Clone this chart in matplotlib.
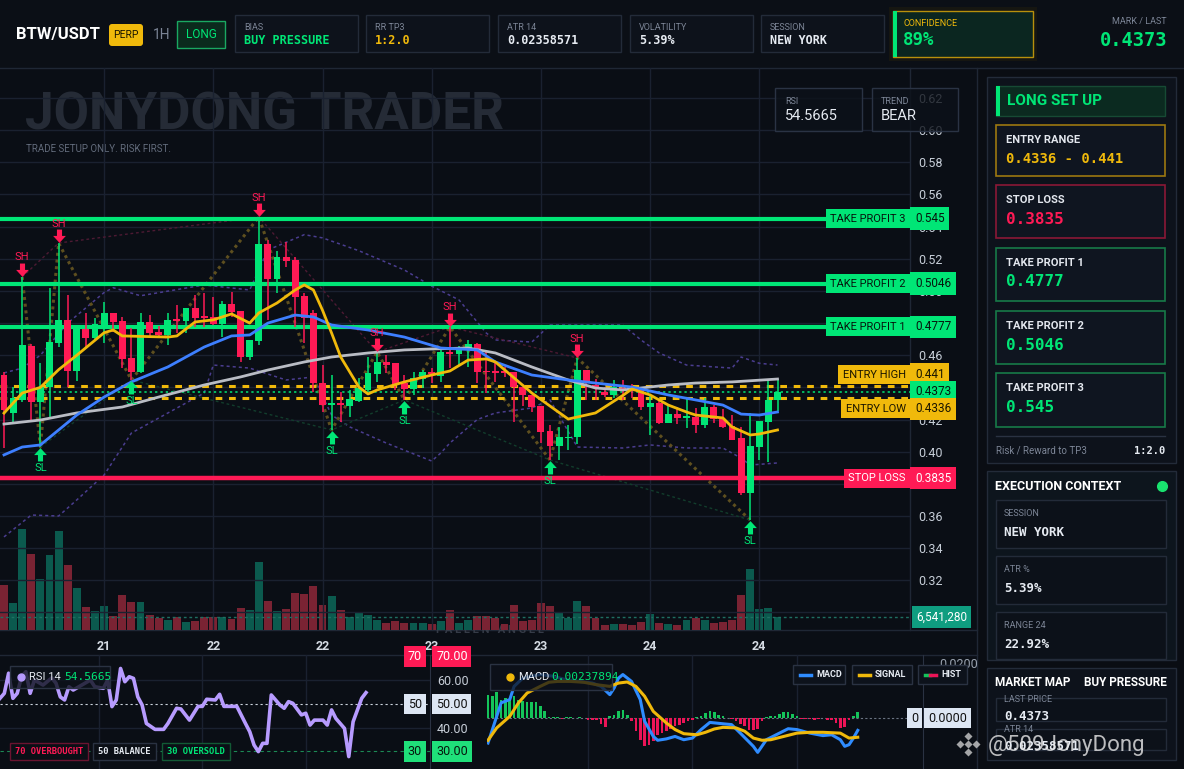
import numpy as np
import matplotlib
matplotlib.use("Agg")
import matplotlib.pyplot as plt
from matplotlib.patches import Rectangle, FancyBboxPatch
from matplotlib.path import Path
from matplotlib.transforms import offset_copy
from matplotlib.colors import to_rgba

# ---------------- data ----------------
opens = [0.4477, 0.4241, 0.4322, 0.4658, 0.4309, 0.4402, 0.4676, 0.4819, 0.4502, 0.4763,
         0.4707, 0.4788, 0.4863, 0.4813, 0.4583, 0.4496, 0.4807, 0.4745, 0.4726, 0.4822,
         0.4813, 0.4894, 0.4838, 0.4838, 0.4794, 0.4919, 0.4875, 0.4589, 0.4689, 0.5292,
         0.5074, 0.5211, 0.5192, 0.4969, 0.4863, 0.4427, 0.4291, 0.4297, 0.4284, 0.4316,
         0.4384, 0.4483, 0.4558, 0.4552, 0.4427, 0.4390, 0.4452, 0.4496, 0.4471, 0.4620,
         0.4608, 0.4633, 0.4670, 0.4502, 0.4502, 0.4496, 0.4496, 0.4402, 0.4353, 0.4284,
         0.4129, 0.4035, 0.4085, 0.4091, 0.4508, 0.4415, 0.4371, 0.4353, 0.4396, 0.4402,
         0.4384, 0.4278, 0.4303, 0.4178, 0.4234, 0.4210, 0.4216, 0.4166, 0.4278, 0.4203,
         0.4160, 0.4085, 0.3743, 0.4029, 0.4185, 0.4322]
highs = [0.4496, 0.4400, 0.5087, 0.4670, 0.4552, 0.5018, 0.5298, 0.4975, 0.4782, 0.4863,
         0.4832, 0.4931, 0.4863, 0.4838, 0.4769, 0.4863, 0.4850, 0.4780, 0.4863, 0.4913,
         0.4894, 0.4975, 0.4988, 0.4963, 0.4938, 0.4993, 0.4875, 0.4695, 0.5460, 0.5317,
         0.5248, 0.5304, 0.5211, 0.4988, 0.4880, 0.4539, 0.4477, 0.4371, 0.4384, 0.4458,
         0.4589, 0.4620, 0.4602, 0.4552, 0.4477, 0.4496, 0.4508, 0.4520, 0.4633, 0.4776,
         0.4658, 0.4695, 0.4676, 0.4633, 0.4558, 0.4527, 0.4496, 0.4402, 0.4353, 0.4284,
         0.4166, 0.4154, 0.4166, 0.4583, 0.4508, 0.4452, 0.4402, 0.4446, 0.4446, 0.4420,
         0.4384, 0.4353, 0.4322, 0.4284, 0.4280, 0.4334, 0.4272, 0.4334, 0.4290, 0.4266,
         0.4228, 0.4154, 0.4241, 0.4191, 0.4446, 0.4452]
lows = [0.4023, 0.4180, 0.4310, 0.4185, 0.4029, 0.4216, 0.4651, 0.4402, 0.4440, 0.4651,
        0.4695, 0.4676, 0.4745, 0.4520, 0.4446, 0.4490, 0.4707, 0.4707, 0.4664, 0.4738,
        0.4738, 0.4776, 0.4776, 0.4788, 0.4713, 0.4838, 0.4558, 0.4570, 0.4664, 0.4819,
        0.4987, 0.5149, 0.4776, 0.4676, 0.4370, 0.4247, 0.4135, 0.4185, 0.4216, 0.4309,
        0.4371, 0.4434, 0.4490, 0.4384, 0.4322, 0.4353, 0.4396, 0.4427, 0.4434, 0.4520,
        0.4540, 0.4527, 0.4427, 0.4365, 0.4434, 0.4465, 0.4185, 0.4284, 0.4247, 0.4054,
        0.3948, 0.3948, 0.4010, 0.4048, 0.4322, 0.4322, 0.4340, 0.4334, 0.4322, 0.4334,
        0.4259, 0.4104, 0.4172, 0.4178, 0.4172, 0.4147, 0.4116, 0.4147, 0.4178, 0.4147,
        0.4073, 0.3731, 0.3575, 0.3948, 0.3936, 0.4253]
closes = [0.4259, 0.4334, 0.4664, 0.4310, 0.4402, 0.4682, 0.4819, 0.4502, 0.4782, 0.4707,
          0.4794, 0.4863, 0.4807, 0.4577, 0.4496, 0.4807, 0.4738, 0.4726, 0.4819, 0.4816,
          0.4894, 0.4832, 0.4832, 0.4794, 0.4919, 0.4869, 0.4589, 0.4695, 0.5292, 0.5074,
          0.5211, 0.5186, 0.4962, 0.4832, 0.4427, 0.4291, 0.4294, 0.4291, 0.4328, 0.4396,
          0.4490, 0.4558, 0.4539, 0.4415, 0.4390, 0.4458, 0.4496, 0.4483, 0.4620, 0.4608,
          0.4639, 0.4670, 0.4496, 0.4496, 0.4490, 0.4490, 0.4402, 0.4353, 0.4278, 0.4123,
          0.4035, 0.4091, 0.4091, 0.4508, 0.4434, 0.4402, 0.4353, 0.4402, 0.4378, 0.4378,
          0.4278, 0.4303, 0.4178, 0.4234, 0.4210, 0.4222, 0.4166, 0.4278, 0.4203, 0.4153,
          0.4073, 0.3743, 0.4035, 0.4191, 0.4322, 0.4373]
# volume in millions
volumes_m = [22.6, 13.6, 50.8, 38.2, 25.7, 37.7, 49.8, 32.7, 21.1, 11.6,
             9.6, 12.1, 7.0, 17.6, 14.1, 14.1, 7.5, 6.0, 5.0, 6.5,
             4.0, 4.5, 6.5, 6.5, 6.5, 5.5, 11.1, 10.1, 34.2, 14.6,
             9.6, 10.6, 18.6, 18.1, 22.1, 12.6, 17.1, 10.1, 6.5, 8.6,
             7.5, 5.0, 3.5, 4.5, 3.5, 3.5, 3.5, 3.0, 4.5, 10.1,
             3.5, 5.0, 7.0, 7.0, 6.0, 3.0, 12.6, 4.5, 5.0, 13.6,
             12.1, 9.1, 6.0, 14.6, 12.1, 6.0, 2.5, 3.0, 3.0, 2.5,
             4.0, 8.0, 3.5, 3.0, 2.5, 5.0, 6.0, 5.0, 3.5, 4.0,
             5.0, 17.6, 30.7, 10.6, 11.1, 6.54]

date_ticks = [11, 23, 35, 47, 59, 71, 83]
date_labels = ["21", "22", "22", "23", "23", "24", "24"]
price_ticks = [0.30, 0.32, 0.34, 0.36, 0.38, 0.40, 0.42, 0.44, 0.46, 0.48,
               0.50, 0.52, 0.54, 0.56, 0.58, 0.60, 0.62]
hidden_ticks = [0.30, 0.38, 0.44, 0.48]   # fully covered by the level tags

# moving averages / bands (candle index, price)
fast_idx = [0, 2, 4, 6, 8, 11, 12, 13, 18, 19, 21, 23, 25, 27, 28, 30, 32, 33, 34, 35,
            36, 37, 39, 40, 41, 44, 47, 49, 51, 53, 54, 58, 62, 65, 68, 69, 71, 73, 75,
            76, 79, 80, 82, 83, 85]
fast_val = [0.424, 0.4365, 0.440, 0.451, 0.460, 0.474, 0.4757, 0.472, 0.4713, 0.472,
            0.4807, 0.482, 0.4857, 0.480, 0.4863, 0.4925, 0.5006, 0.5037, 0.5006, 0.488,
            0.4738, 0.4589, 0.4402, 0.4359, 0.4384, 0.4434, 0.4477, 0.4502, 0.457, 0.4577,
            0.4558, 0.4365, 0.4203, 0.4241, 0.435, 0.439, 0.4353, 0.429, 0.4247,
            0.4228, 0.421, 0.4154, 0.4104, 0.411, 0.4135]
mid_idx = [0, 2, 4, 6, 8, 11, 14, 18, 22, 25, 27, 29, 32, 34, 36, 40, 44, 48, 52, 54,
           58, 62, 65, 69, 73, 76, 79, 81, 83, 85]
mid_val = [0.398, 0.4029, 0.4042, 0.4135, 0.4228, 0.434, 0.4434, 0.4527, 0.4651, 0.472,
           0.4726, 0.480, 0.485, 0.4838, 0.4788, 0.4757, 0.4713, 0.4645, 0.4633, 0.4558,
           0.4477, 0.4446, 0.4427, 0.4402, 0.4353, 0.4322, 0.429, 0.4234, 0.4228, 0.4247]
slow_idx = [0, 4, 8, 13, 17, 22, 26, 29, 33, 36, 40, 44, 47, 51, 54, 58, 62, 65, 68,
            73, 76, 80, 85]
slow_val = [0.4172, 0.4197, 0.4241, 0.4278, 0.434, 0.4415, 0.4465, 0.4508, 0.4558, 0.4589,
            0.4614, 0.4633, 0.4639, 0.4645, 0.4614, 0.4527, 0.4446, 0.4396, 0.4384,
            0.4415, 0.4427, 0.4434, 0.4452]
bb_up_idx = [0, 2, 4, 7, 11, 12, 15, 22, 27, 29, 33, 35, 39, 44, 47, 50, 53, 54, 58, 60,
             68, 70, 72, 75, 80, 81, 83, 85]
bb_up_val = [0.449, 0.452, 0.460, 0.480, 0.499, 0.502, 0.497, 0.5037, 0.5006, 0.5255,
             0.535, 0.533, 0.525, 0.513, 0.503, 0.4944, 0.4738, 0.4695, 0.4682, 0.4788,
             0.4788, 0.4695, 0.4614, 0.4539, 0.452, 0.4589, 0.455, 0.4539]
bb_lo_idx = [0, 3, 6, 8, 11, 14, 22, 23, 27, 31, 34, 36, 38, 42, 47, 48, 49, 52, 54, 58,
             60, 63, 68, 71, 75, 79, 81, 82, 85]
bb_lo_val = [0.347, 0.3606, 0.360, 0.370, 0.3855, 0.4116, 0.4365, 0.4539, 0.452, 0.4446,
             0.4465, 0.4228, 0.4154, 0.4054, 0.3942, 0.3992, 0.4054, 0.420, 0.4241, 0.4272,
             0.4322, 0.4029, 0.4023, 0.4042, 0.4023, 0.4023, 0.396, 0.3917, 0.393]

sh_idx = [2, 6, 28, 41, 49, 63]
sl_idx = [4, 14, 36, 44, 60, 82]

tp3, tp2, tp1 = 0.545, 0.5046, 0.4777
entry_high, entry_low = 0.441, 0.4336
last_price = 0.4373
stop_loss = 0.3835
last_volume = 6541280

rsi_idx = [0, 1, 2, 3, 4, 5, 6, 7, 8, 10, 12, 13, 14, 15, 16, 17, 19, 21, 22, 24,
           25, 26, 27, 28, 29, 30, 31, 32, 33, 34, 36, 38, 39, 41, 42, 44, 46, 47, 48, 50,
           51, 52, 55, 57, 58, 59, 60, 61, 62, 63, 65, 66, 67, 68, 70, 71, 72, 73, 75, 76,
           77, 78, 80, 81, 82, 84, 85]
rsi_val = [52.4, 54.5, 63.0, 52.4, 54.5, 61.5, 63.6, 54.5, 60.1, 58.0, 61.0, 58.8, 53.0,
           51.7, 57.3, 55.9, 58.0, 60.1, 57.3, 56.6, 60.1, 48.9, 51.7, 65.0, 59.4, 61.5,
           60.8, 53.0, 49.6, 41.8, 39.3, 39.3, 41.8, 48.2, 47.9, 43.2, 49.0, 49.0, 52.0,
           51.7, 54.1, 49.0, 49.0, 41.8, 38.3, 32.7, 29.9, 33.4, 33.4, 53.8, 49.6, 48.2,
           51.0, 50.3, 45.4, 46.1, 41.1, 43.2, 43.2, 41.1, 47.5, 43.9, 39.7, 27.8, 42.5,
           52.4, 54.8]
rsi_last = 54.5665

macd_idx = [0, 2, 3, 5, 6, 8, 10, 12, 15, 18, 21, 24, 26, 28, 29, 30, 31, 33, 35, 36,
            38, 39, 41, 43, 45, 47, 49, 51, 54, 56, 58, 61, 62, 64, 67, 69, 71, 74, 77,
            79, 81, 82, 83, 84, 85]
macd_val = [-0.0091, 0.0006, 0.0055, 0.0067, 0.0115, 0.0145, 0.0152, 0.0158, 0.0152,
            0.0139, 0.0133, 0.0127, 0.0115, 0.0085, 0.0109, 0.0145, 0.0158, 0.0133, 0.0067,
            -0.0012, -0.0067, -0.0081, -0.0076, -0.0067, -0.0079, -0.0073, -0.0042, -0.0016,
            -0.0021, -0.0024, -0.0055, -0.0103, -0.0125, -0.0079, -0.0055, -0.0039, -0.0042,
            -0.0055, -0.0064, -0.0061, -0.0079, -0.0103, -0.0097, -0.0073, -0.0045]
signal_idx = [0, 2, 5, 7, 9, 12, 14, 16, 19, 22, 25, 28, 30, 32, 34, 36, 38, 41, 43, 45,
              48, 50, 52, 54, 57, 59, 61, 63, 65, 68, 71, 74, 77, 81, 83, 85]
signal_val = [-0.0081, -0.0036, 0.0006, 0.0055, 0.0091, 0.0115, 0.013, 0.0133, 0.0133,
              0.013, 0.0121, 0.0115, 0.0127, 0.0131, 0.0115, 0.0079, 0.0024, -0.0018,
              -0.0042, -0.0057, -0.0061, -0.0052, -0.004, -0.0034, -0.0036, -0.0048,
              -0.0073, -0.0081, -0.0079, -0.0067, -0.0055, -0.0052, -0.0052, -0.0055,
              -0.0073, -0.007]
hist_val = [0.0085, 0.0079, 0.0093, 0.0067, 0.0073, 0.0067, 0.0081, 0.0067, 0.0061, 0.0057,
            0.0057, 0.0057, 0.0042, 0.0024, 0.0003, 0.0004, 0.0002, -0.0002, 0.0002, 0.0002,
            0.0001, 0.0003, 0.0001, -0.0006, -0.0008, -0.0006, -0.0021, -0.0033, 0.0006, 0.0012,
            0.0024, 0.0028, 0.0012, -0.0012, -0.0048, -0.0079, -0.0103, -0.0097, -0.0085, -0.0061,
            -0.0055, -0.0048, -0.004, -0.0028, -0.0024, -0.0018, -0.0012, -0.0006, 0.0002, 0.0008,
            0.0018, 0.0027, 0.0021, 0.001, 0.0008, 0.0001, -0.0004, -0.0012, -0.0021, -0.003,
            -0.0042, -0.0045, -0.004, -0.0012, 0.0002, 0.0006, 0.0008, 0.0016, 0.0023, 0.0023,
            0.0016, 0.0006, -0.0002, -0.0002, -0.0004, -0.0006, -0.0004, -0.0001, -0.0006, -0.0008,
            -0.0018, -0.0036, -0.0033, -0.0008, 0.0008, 0.0023]
macd_last = 0.00237894

# ---------------- style ----------------
plt.rcParams["font.family"] = ["Roboto", "DejaVu Sans"]
MONO = "DejaVu Sans Mono"
BG = "#0a0e15"
EDGE = "#232b39"
GRID = "#1a2130"
GREEN = "#00e676"
RED = "#ff1a55"
YEL = "#f0b90b"
BLUE = "#3d7fff"
GRAY = "#b9bcc4"
PURPLE = "#4a3d8f"
OLIVE = "#5e4f1f"
VOL_UP = "#0b5a4e"
VOL_DN = "#7a2333"
TXT = "#e6ebf2"
MUTED = "#7c8596"
RSI_C = "#b79bff"

W, H = 1184, 769
fig = plt.figure(figsize=(W / 100, H / 100), dpi=100)
fig.patch.set_facecolor(BG)


def rect(x0, y0, x1, y1):
    return [x0 / W, 1 - y1 / H, (x1 - x0) / W, (y1 - y0) / H]


def rbox(a, x0, y0, x1, y1, fc, ec="none", lw=1.0, alpha=1.0, z=1):
    a.add_patch(Rectangle((x0, y0), x1 - x0, y1 - y0, facecolor=to_rgba(fc, alpha),
                          edgecolor=ec, linewidth=lw, zorder=z))


def put(a, x, y, s, size, color, weight="normal", ha="left", family=None, alpha=1.0, z=5):
    kw = {}
    if family:
        kw["family"] = family
    a.text(x, y, s, fontsize=size, color=color, fontweight=weight, ha=ha, va="center",
           alpha=alpha, zorder=z, **kw)


bg = fig.add_axes([0, 0, 1, 1], zorder=0)
bg.set_xlim(0, W)
bg.set_ylim(H, 0)
bg.axis("off")
fg = fig.add_axes([0, 0, 1, 1], zorder=30)
fg.set_xlim(0, W)
fg.set_ylim(H, 0)
fg.axis("off")
fg.patch.set_alpha(0)

# ---------------- background layout ----------------
rbox(bg, 0, 0, W, 68, "#0b0f16")
rbox(bg, 977, 68, W, H, "#0a0d13")
for (x0, y0, x1, y1) in [(0, 68, W, 68), (0, 630, 977, 630), (0, 655, 977, 655)]:
    bg.plot([x0, x1], [y0, y1], color="#1f2735", lw=1)
bg.plot([910, 910], [68, 630], color="#1f2735", lw=1)
bg.plot([977, 977], [68, H], color="#1f2735", lw=1)

# watermark
bg.text(25, 116, "JONYDONG TRADER", fontsize=37, fontweight="bold", color="#252b36",
        va="center", ha="left")
put(bg, 26, 149, "TRADE SETUP ONLY. RISK FIRST.", 7, "#626b7b")
bg.text(490, 630, " ".join("FALLEN ANGEL"), fontsize=8, fontweight="bold", color="#353b47",
        va="center", ha="center")

# ---------------- top bar ----------------
put(bg, 16, 34, "BTW/USDT", 12, "white", "bold")
bg.add_patch(FancyBboxPatch((109, 24), 34, 22, boxstyle="round,pad=0,rounding_size=3",
                            fc=YEL, ec="none", zorder=2))
put(bg, 126, 35, "PERP", 7.5, "#1b1600", ha="center", z=3)
put(bg, 153, 35, "1H", 10, MUTED)
rbox(bg, 177, 21, 225, 48, "#0b2a1d", ec="#1aa862", lw=1, z=2)
put(bg, 201, 35, "LONG", 8.5, GREEN, ha="center", z=3)

stats = [(235, "BIAS", "BUY PRESSURE", GREEN), (366, "RR TP3", "1:2.0", YEL),
         (498, "ATR 14", "0.02358571", TXT), (630, "VOLATILITY", "5.39%", TXT),
         (761, "SESSION", "NEW YORK", TXT)]
for x0, lab, val, col in stats:
    rbox(bg, x0, 15, x0 + 123, 52, "#0d121b", ec=EDGE, lw=1, z=2)
    put(bg, x0 + 9, 27, lab, 6.5, MUTED, z=3)
    put(bg, x0 + 9, 41, val, 8.5, col, "bold", family=MONO, z=3)

rbox(bg, 889, 7, 1037, 61, "#3a2c05", alpha=0.25, z=1)
rbox(bg, 893, 11, 1033, 57, "#0b2620", ec="#b8900c", lw=1, z=2)
rbox(bg, 893, 11, 897, 57, GREEN, z=3)
put(bg, 903, 23, "CONFIDENCE", 6.5, YEL, z=3)
put(bg, 903, 40, "89%", 12.5, GREEN, "bold", family=MONO, z=3)
put(bg, 1167, 22, "MARK / LAST", 6.5, MUTED, ha="right")
put(bg, 1167, 41, f"{last_price:g}", 13.5, GREEN, "bold", ha="right", family=MONO)

# ---------------- main price chart ----------------
n = len(closes)
idx = np.arange(n)
o = np.array(opens)
c = np.array(closes)
up = c >= o
ccol = np.where(up, GREEN, RED)

vx = fig.add_axes(rect(0, 68, 910, 630), zorder=1)
vx.set_facecolor("none")
vx.set_xlim(-4 / 9.1, 906 / 9.1)
vx.set_ylim(0, 562 / 1.988)
vx.bar(idx, volumes_m, width=0.86, color=np.where(up, VOL_UP, VOL_DN), linewidth=0)
vx.axhline(last_volume / 1e6, color="#1f6f62", lw=1, ls=(0, (2, 2)))
vx.axis("off")
vx.annotate(f"{last_volume:,}", xy=(1 + 6 / 910, last_volume / 1e6),
            xycoords=("axes fraction", "data"), ha="left", va="center", fontsize=8.5,
            color="white", annotation_clip=False, zorder=10,
            bbox=dict(boxstyle="square,pad=0.35", fc="#0f9d80", ec="none"))

ax = fig.add_axes(rect(0, 68, 910, 630), zorder=2)
ax.set_facecolor("none")
ax.set_xlim(-4 / 9.1, 906 / 9.1)
ax.set_ylim(0.62 - 532 / 1607.7, 0.62 + 30 / 1607.7)
ax.set_yticks(price_ticks)
ax.set_yticklabels(["" if any(abs(t - h) < 1e-9 for h in hidden_ticks) else f"{t:.2f}"
                    for t in price_ticks])
ax.set_xticks(date_ticks)
ax.set_xticklabels(date_labels)
ax.yaxis.tick_right()
ax.tick_params(axis="y", length=0, pad=6, labelsize=9, labelcolor="#c7ced8")
ax.tick_params(axis="x", length=0, pad=7, labelsize=9, labelcolor="#d5dbe3")
for lab in ax.get_xticklabels():
    lab.set_fontweight("bold")
ax.grid(color=GRID, lw=1)
ax.set_axisbelow(True)
for s in ax.spines.values():
    s.set_visible(False)

# bands, zigzag, trend lines
ax.plot(bb_up_idx, bb_up_val, color=PURPLE, lw=1.1, ls=(0, (2, 2)), zorder=2)
ax.plot(bb_lo_idx, bb_lo_val, color=PURPLE, lw=1.1, ls=(0, (2, 2)), zorder=2)
swings = sorted([(i, highs[i]) for i in sh_idx] + [(i, lows[i]) for i in sl_idx])
ax.plot([p[0] for p in swings], [p[1] for p in swings], color=OLIVE, lw=2.2,
        ls=(0, (1, 1.2)), zorder=2)
ax.plot(sh_idx, [highs[i] for i in sh_idx], color="#4d1a33", lw=1, ls=(0, (2, 2)), zorder=2)
ax.plot(sl_idx, [lows[i] for i in sl_idx], color="#123d2c", lw=1, ls=(0, (2, 2)), zorder=2)

# levels
for lv in (tp3, tp2, tp1):
    ax.axhline(lv, color=GREEN, lw=3, zorder=3)
ax.axhline(stop_loss, color=RED, lw=3.2, zorder=3)
for lv in (entry_high, entry_low):
    ax.axhline(lv, color=YEL, lw=2.2, ls=(0, (2.2, 2.2)), zorder=4)
ax.axhline(last_price, color=GREEN, lw=1.1, ls=(0, (1.5, 2)), zorder=4)

# candles
ax.vlines(idx, lows, highs, colors=ccol, lw=1.1, zorder=5)
ax.bar(idx, np.maximum(np.abs(c - o), 0.0009), bottom=np.minimum(o, c), width=0.76,
       color=ccol, linewidth=0, zorder=6)

# moving averages
ax.plot(slow_idx, slow_val, color=GRAY, lw=2, zorder=7)
ax.plot(mid_idx, mid_val, color=BLUE, lw=2, zorder=7)
ax.plot(fast_idx, fast_val, color=YEL, lw=2, zorder=7)

# swing markers
arrow_dn = Path([(-0.22, 0.6), (0.22, 0.6), (0.22, 0.05), (0.55, 0.05), (0, -0.55),
                 (-0.55, 0.05), (-0.22, 0.05), (-0.22, 0.6)])
arrow_up = Path([(x, -y) for x, y in arrow_dn.vertices])
tr_hi = offset_copy(ax.transData, fig=fig, x=0, y=5, units="points")
tr_lo = offset_copy(ax.transData, fig=fig, x=0, y=-5, units="points")
ax.plot(sh_idx, [highs[i] for i in sh_idx], ls="none", marker=arrow_dn, ms=10,
        color=RED, mec="none", transform=tr_hi, zorder=8)
ax.plot(sl_idx, [lows[i] for i in sl_idx], ls="none", marker=arrow_up, ms=10,
        color=GREEN, mec="none", transform=tr_lo, zorder=8)
for i in sh_idx:
    ax.annotate("SH", (i, highs[i]), xytext=(0, 14), textcoords="offset points",
                ha="center", va="center", fontsize=8, color=RED, zorder=8)
for i in sl_idx:
    ax.annotate("SL", (i, lows[i]), xytext=(0, -15), textcoords="offset points",
                ha="center", va="center", fontsize=8, color=GREEN, zorder=8)


def price_tag(name, level, fc, tc, dy=0):
    box = dict(boxstyle="square,pad=0.4", fc=fc, ec="none")
    if name:
        ax.annotate(name, xy=(1 - 4 / 910, level), xycoords=("axes fraction", "data"),
                    xytext=(0, dy), textcoords="offset points", ha="right", va="center",
                    fontsize=8, color=tc, bbox=box, annotation_clip=False, zorder=12)
    ax.annotate(f"{level:g}", xy=(1 + 5 / 910, level), xycoords=("axes fraction", "data"),
                xytext=(0, dy), textcoords="offset points", ha="left", va="center",
                fontsize=8.5, color=tc, bbox=box, annotation_clip=False, zorder=12)


price_tag("TAKE PROFIT 3", tp3, GREEN, "#06170d")
price_tag("TAKE PROFIT 2", tp2, GREEN, "#06170d")
price_tag("TAKE PROFIT 1", tp1, GREEN, "#06170d")
price_tag("ENTRY HIGH", entry_high, YEL, "#1b1600", dy=8)
price_tag(None, last_price, GREEN, "#06170d")
price_tag("ENTRY LOW", entry_low, YEL, "#1b1600", dy=-8)
price_tag("STOP LOSS", stop_loss, RED, "white")

# RSI / TREND cards
rbox(fg, 775, 88, 862, 131, "#0c1119", ec="#2a3344", lw=1, alpha=0.8)
put(fg, 785, 101, "RSI", 6.5, MUTED)
put(fg, 785, 116, f"{rsi_last}", 10.5, TXT)
rbox(fg, 872, 88, 958, 131, "#0c1119", ec="#2a3344", lw=1, alpha=0.8)
put(fg, 881, 101, "TREND", 6.5, MUTED)
put(fg, 881, 116, "BEAR", 10.5, TXT)

# ---------------- RSI panel ----------------
rx = fig.add_axes(rect(0, 655, 430, 769), zorder=2)
rx.set_facecolor("none")
rx.set_xlim(0, 430 / 4.306)
rx.set_ylim(50 - 65 / 2.37, 50 + 49 / 2.37)
rx.set_xticks([23, 47, 71])
rx.set_yticks([40, 60])
rx.set_yticklabels(["40.00", "60.00"])
rx.yaxis.tick_right()
rx.tick_params(axis="y", length=0, pad=5, labelsize=9, labelcolor="#c7ced8")
rx.tick_params(axis="x", length=0, labelbottom=False)
rx.grid(color=GRID, lw=1)
for s in rx.spines.values():
    s.set_visible(False)
rx.spines["right"].set_visible(True)
rx.spines["right"].set_color("#2a3242")
rx.axhline(50, color="#c9d1dc", lw=0.8, ls=(0, (2, 2.5)))
rx.axhline(30, color="#1c8a55", lw=0.8, ls=(0, (3, 3)))
rx.plot(rsi_idx, rsi_val, color=RSI_C, lw=2.6, zorder=4)
for lv, fc, tc in [(70, "#ff1a55", "white"), (50, "#dde6f3", "#111"), (30, "#1fe07a", "#06170d")]:
    kw = dict(xycoords=("axes fraction", "data"), va="center", fontsize=9, color=tc,
              annotation_clip=False, zorder=12,
              bbox=dict(boxstyle="square,pad=0.3", fc=fc, ec="none"))
    rx.annotate(f"{lv}", xy=(422 / 430, lv), ha="right", **kw)
    rx.annotate(f"{lv:.2f}", xy=(436 / 430, lv), ha="left", **kw)

rbox(fg, 10, 666, 110, 688, "#0d121b", ec="#2a3242", lw=1, alpha=0.8)
fg.plot([21], [677], "o", ms=5, color=RSI_C)
put(fg, 29, 677, "RSI 14", 8, TXT)
put(fg, 64, 677, f"{rsi_last}", 8, GREEN, family=MONO)
for x0, x1, lab, ec, tc in [(10, 88, "70 OVERBOUGHT", "#6a1430", RED),
                            (93, 156, "50 BALANCE", "#2a3242", TXT),
                            (162, 230, "30 OVERSOLD", "#125a35", GREEN)]:
    rbox(fg, x0, 743, x1, 760, "#0b0f16", ec=ec, lw=1)
    put(fg, (x0 + x1) / 2, 751.5, lab, 6.3, tc, "bold", ha="center", family=MONO)

# ---------------- MACD panel ----------------
mx = fig.add_axes(rect(487, 655, 923, 769), zorder=2)
mx.set_facecolor("none")
mx.set_xlim(-1 / 4.35, 435 / 4.35)
mx.set_ylim(-51 / 2750, 63 / 2750)
mx.set_xticks([23, 47, 71])
mx.set_yticks([0.02])
mx.set_yticklabels(["0.0200"])
mx.yaxis.tick_right()
mx.tick_params(axis="y", length=0, pad=12, labelsize=9, labelcolor="#9aa3b0")
mx.tick_params(axis="x", length=0, labelbottom=False)
mx.grid(axis="x", color=GRID, lw=1)
for s in mx.spines.values():
    s.set_visible(False)
mx.spines["right"].set_visible(True)
mx.spines["right"].set_color("#2a3242")
mx.axhline(0, color="#6a7382", lw=0.8, ls=(0, (2, 2)), zorder=1)
hv = np.array(hist_val)
mx.bar(np.arange(len(hv)), hv, width=0.62, color=np.where(hv >= 0, "#14c45a", "#ec1457"),
       linewidth=0, zorder=2)
mx.plot(macd_idx, macd_val, color="#2f8cff", lw=2.2, zorder=4)
mx.plot(signal_idx, signal_val, color=YEL, lw=2.2, zorder=4)
kw = dict(xycoords=("axes fraction", "data"), va="center", fontsize=9, color="#111",
          annotation_clip=False, zorder=12,
          bbox=dict(boxstyle="square,pad=0.3", fc="#dde6f3", ec="none"))
mx.annotate("0", xy=(431 / 436, 0), ha="right", **kw)
mx.annotate("0.0000", xy=(441 / 436, 0), ha="left", **kw)

rbox(fg, 490, 664, 612, 690, "#0d121b", ec="#2a3242", lw=1, alpha=0.75)
fg.plot([510], [677], "o", ms=5, color=YEL)
put(fg, 518, 677, "MACD", 8, TXT)
put(fg, 551, 677, f"{macd_last}", 8, GREEN, family=MONO)
for x0, x1, lab, col in [(793, 845, "MACD", "#2f8cff"), (852, 912, "SIGNAL", YEL),
                         (918, 967, "HIST", None)]:
    rbox(fg, x0, 665, x1, 684, "#0d121b", ec="#2a3242", lw=1)
    if col:
        fg.plot([x0 + 7, x0 + 18], [674.5, 674.5], color=col, lw=2.5)
    else:
        fg.plot([x0 + 7, x0 + 12], [674.5, 674.5], color="#14c45a", lw=2.5)
        fg.plot([x0 + 12, x0 + 18], [674.5, 674.5], color="#ec1457", lw=2.5)
    put(fg, x0 + 23, 674.5, lab, 6.5, TXT, "bold")

# ---------------- right panel ----------------
rbox(bg, 987, 77, 1176, 463, "#0d121b", ec=EDGE, lw=1)
rbox(bg, 996, 86, 1165, 116, "#0b2a20", ec="#164a34", lw=1, z=2)
rbox(bg, 996, 86, 1000, 116, GREEN, z=3)
put(bg, 1007, 101, "LONG SET UP", 11, GREEN, "bold")
cards = [(125, 176, "ENTRY RANGE", f"{entry_low:g} - {entry_high:g}", YEL, "#9c7810", 10),
         (185, 238, "STOP LOSS", f"{stop_loss:g}", RED, "#8a1836", 11.5),
         (248, 301, "TAKE PROFIT 1", f"{tp1:g}", GREEN, "#177a48", 11.5),
         (311, 364, "TAKE PROFIT 2", f"{tp2:g}", GREEN, "#177a48", 11.5),
         (373, 427, "TAKE PROFIT 3", f"{tp3:g}", GREEN, "#177a48", 11.5)]
for y0, y1, lab, val, col, ec, fs in cards:
    rbox(bg, 996, y0, 1165, y1, "#0f1520", ec=ec, lw=1.2, z=2)
    put(bg, 1006, y0 + 15, lab, 8, "#e3e7ee", "bold", z=3)
    put(bg, 1006, y0 + 34, val, fs, col, "bold", family=MONO, z=3)
bg.plot([996, 1165], [436, 436], color="#2a3242", lw=1)
put(bg, 996, 451, "Risk / Reward to TP3", 7, MUTED)
put(bg, 1165, 451, "1:2.0", 7.5, TXT, "bold", ha="right", family=MONO)

rbox(bg, 987, 471, 1176, 660, "#0d151d", ec=EDGE, lw=1)
put(bg, 995, 486, "EXECUTION CONTEXT", 9, "white", "bold")
bg.plot([1162], [486], "o", ms=7, color="#19e36f")
for y0, lab, val in [(500, "SESSION", "NEW YORK"), (556, "ATR %", "5.39%"),
                     (612, "RANGE 24", "22.92%")]:
    rbox(bg, 996, y0, 1166, min(y0 + 48, 659), "#0c1119", ec=EDGE, lw=1, z=2)
    put(bg, 1004, y0 + 13, lab, 6.5, MUTED, z=3)
    put(bg, 1004, y0 + 32, val, 9, TXT, "bold", family=MONO, z=3)

rbox(bg, 987, 668, 1176, 760, "#0d121b", ec=EDGE, lw=1)
put(bg, 995, 683, "MARKET MAP", 8.5, "white", "bold")
put(bg, 1167, 683, "BUY PRESSURE", 8.5, "white", "bold", ha="right")
for y0, y1, lab, val in [(698, 721, "LAST PRICE", f"{last_price:g}"),
                         (729, 750, "ATR 14", "0.02358571")]:
    rbox(bg, 996, y0, 1166, y1, "#0c1119", ec=EDGE, lw=1, z=2)
    put(bg, 1004, y0 + 1, lab, 6.5, MUTED, z=3)
    put(bg, 1004, y0 + 18, val, 9, TXT, "bold", family=MONO, z=3)

# corner watermark
for dx, dy in [(0, 0), (-8, 0), (8, 0), (0, -8), (0, 8)]:
    fg.plot([968 + dx], [744 + dy], "D", ms=4.5, color="#d9d9d9", alpha=0.75, mec="none")
fg.text(988, 745, "@509JonyDong", fontsize=16, color="#e8e8e8", alpha=0.8,
        va="center", ha="left")

fig.savefig("out.png", dpi=100, facecolor=BG)
